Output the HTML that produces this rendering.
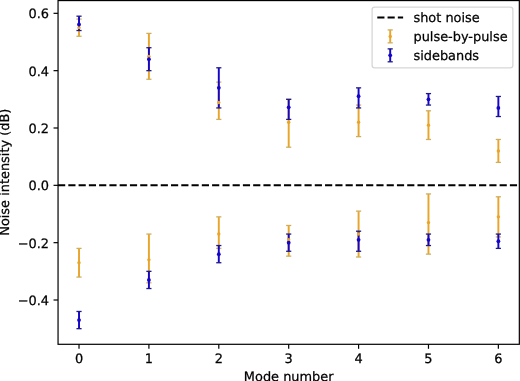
<!DOCTYPE html>
<html><head><meta charset="utf-8"><title>Noise intensity vs mode number</title>
<style>html,body{margin:0;padding:0;background:#fff;}body{width:520px;height:381px;overflow:hidden;}svg{display:block;}text{text-rendering:geometricPrecision;}</style>
</head><body>
<svg width="520" height="381" viewBox="0 0 520 381">
<rect x="0" y="0" width="520" height="381" fill="#ffffff"/>
<g transform="translate(0.15 0)">
<line x1="57.9" y1="185.333" x2="519.18" y2="185.333" stroke="#000" stroke-width="1.938" stroke-dasharray="7.169 3.100"/>
<line x1="78.867" y1="19.059" x2="78.867" y2="36.26" stroke="#e8a52a" stroke-width="1.938"/>
<line x1="76.284" y1="19.059" x2="81.451" y2="19.059" stroke="#cdae5c" stroke-width="1.292"/>
<line x1="76.284" y1="36.26" x2="81.451" y2="36.26" stroke="#cdae5c" stroke-width="1.292"/>
<line x1="148.758" y1="33.393" x2="148.758" y2="79.261" stroke="#e8a52a" stroke-width="1.938"/>
<line x1="146.175" y1="33.393" x2="151.342" y2="33.393" stroke="#cdae5c" stroke-width="1.292"/>
<line x1="146.175" y1="79.261" x2="151.342" y2="79.261" stroke="#cdae5c" stroke-width="1.292"/>
<line x1="218.649" y1="82.128" x2="218.649" y2="119.396" stroke="#e8a52a" stroke-width="1.938"/>
<line x1="216.066" y1="82.128" x2="221.232" y2="82.128" stroke="#cdae5c" stroke-width="1.292"/>
<line x1="216.066" y1="119.396" x2="221.232" y2="119.396" stroke="#cdae5c" stroke-width="1.292"/>
<line x1="288.54" y1="99.329" x2="288.54" y2="147.204" stroke="#e8a52a" stroke-width="1.938"/>
<line x1="285.957" y1="99.329" x2="291.123" y2="99.329" stroke="#cdae5c" stroke-width="1.292"/>
<line x1="285.957" y1="147.204" x2="291.123" y2="147.204" stroke="#cdae5c" stroke-width="1.292"/>
<line x1="358.431" y1="105.062" x2="358.431" y2="136.597" stroke="#e8a52a" stroke-width="1.938"/>
<line x1="355.848" y1="105.062" x2="361.014" y2="105.062" stroke="#cdae5c" stroke-width="1.292"/>
<line x1="355.848" y1="136.597" x2="361.014" y2="136.597" stroke="#cdae5c" stroke-width="1.292"/>
<line x1="428.322" y1="110.796" x2="428.322" y2="139.464" stroke="#e8a52a" stroke-width="1.938"/>
<line x1="425.738" y1="110.796" x2="430.905" y2="110.796" stroke="#cdae5c" stroke-width="1.292"/>
<line x1="425.738" y1="139.464" x2="430.905" y2="139.464" stroke="#cdae5c" stroke-width="1.292"/>
<line x1="498.213" y1="139.464" x2="498.213" y2="162.398" stroke="#e8a52a" stroke-width="1.938"/>
<line x1="495.629" y1="139.464" x2="500.796" y2="139.464" stroke="#cdae5c" stroke-width="1.292"/>
<line x1="495.629" y1="162.398" x2="500.796" y2="162.398" stroke="#cdae5c" stroke-width="1.292"/>
<line x1="78.867" y1="248.402" x2="78.867" y2="277.07" stroke="#e8a52a" stroke-width="1.938"/>
<line x1="76.284" y1="248.402" x2="81.451" y2="248.402" stroke="#cdae5c" stroke-width="1.292"/>
<line x1="76.284" y1="277.07" x2="81.451" y2="277.07" stroke="#cdae5c" stroke-width="1.292"/>
<line x1="148.758" y1="234.068" x2="148.758" y2="282.803" stroke="#e8a52a" stroke-width="1.938"/>
<line x1="146.175" y1="234.068" x2="151.342" y2="234.068" stroke="#cdae5c" stroke-width="1.292"/>
<line x1="146.175" y1="282.803" x2="151.342" y2="282.803" stroke="#cdae5c" stroke-width="1.292"/>
<line x1="218.649" y1="216.867" x2="218.649" y2="248.402" stroke="#e8a52a" stroke-width="1.938"/>
<line x1="216.066" y1="216.867" x2="221.232" y2="216.867" stroke="#cdae5c" stroke-width="1.292"/>
<line x1="216.066" y1="248.402" x2="221.232" y2="248.402" stroke="#cdae5c" stroke-width="1.292"/>
<line x1="288.54" y1="225.468" x2="288.54" y2="256.142" stroke="#e8a52a" stroke-width="1.938"/>
<line x1="285.957" y1="225.468" x2="291.123" y2="225.468" stroke="#cdae5c" stroke-width="1.292"/>
<line x1="285.957" y1="256.142" x2="291.123" y2="256.142" stroke="#cdae5c" stroke-width="1.292"/>
<line x1="358.431" y1="211.134" x2="358.431" y2="257.002" stroke="#e8a52a" stroke-width="1.938"/>
<line x1="355.848" y1="211.134" x2="361.014" y2="211.134" stroke="#cdae5c" stroke-width="1.292"/>
<line x1="355.848" y1="257.002" x2="361.014" y2="257.002" stroke="#cdae5c" stroke-width="1.292"/>
<line x1="428.322" y1="193.933" x2="428.322" y2="254.135" stroke="#e8a52a" stroke-width="1.938"/>
<line x1="425.738" y1="193.933" x2="430.905" y2="193.933" stroke="#cdae5c" stroke-width="1.292"/>
<line x1="425.738" y1="254.135" x2="430.905" y2="254.135" stroke="#cdae5c" stroke-width="1.292"/>
<line x1="498.213" y1="196.8" x2="498.213" y2="236.935" stroke="#e8a52a" stroke-width="1.938"/>
<line x1="495.629" y1="196.8" x2="500.796" y2="196.8" stroke="#cdae5c" stroke-width="1.292"/>
<line x1="495.629" y1="236.935" x2="500.796" y2="236.935" stroke="#cdae5c" stroke-width="1.292"/>
<line x1="78.867" y1="16.192" x2="78.867" y2="30.526" stroke="#1405c8" stroke-width="1.938"/>
<line x1="76.284" y1="16.192" x2="81.451" y2="16.192" stroke="#1c1a86" stroke-width="1.292"/>
<line x1="76.284" y1="30.526" x2="81.451" y2="30.526" stroke="#1c1a86" stroke-width="1.292"/>
<line x1="148.758" y1="47.727" x2="148.758" y2="70.661" stroke="#1405c8" stroke-width="1.938"/>
<line x1="146.175" y1="47.727" x2="151.342" y2="47.727" stroke="#1c1a86" stroke-width="1.292"/>
<line x1="146.175" y1="70.661" x2="151.342" y2="70.661" stroke="#1c1a86" stroke-width="1.292"/>
<line x1="218.649" y1="67.794" x2="218.649" y2="107.929" stroke="#1405c8" stroke-width="1.938"/>
<line x1="216.066" y1="67.794" x2="221.232" y2="67.794" stroke="#1c1a86" stroke-width="1.292"/>
<line x1="216.066" y1="107.929" x2="221.232" y2="107.929" stroke="#1c1a86" stroke-width="1.292"/>
<line x1="288.54" y1="99.329" x2="288.54" y2="119.396" stroke="#1405c8" stroke-width="1.938"/>
<line x1="285.957" y1="99.329" x2="291.123" y2="99.329" stroke="#1c1a86" stroke-width="1.292"/>
<line x1="285.957" y1="119.396" x2="291.123" y2="119.396" stroke="#1c1a86" stroke-width="1.292"/>
<line x1="358.431" y1="87.862" x2="358.431" y2="107.929" stroke="#1405c8" stroke-width="1.938"/>
<line x1="355.848" y1="87.862" x2="361.014" y2="87.862" stroke="#1c1a86" stroke-width="1.292"/>
<line x1="355.848" y1="107.929" x2="361.014" y2="107.929" stroke="#1c1a86" stroke-width="1.292"/>
<line x1="428.322" y1="93.595" x2="428.322" y2="105.062" stroke="#1405c8" stroke-width="1.938"/>
<line x1="425.738" y1="93.595" x2="430.905" y2="93.595" stroke="#1c1a86" stroke-width="1.292"/>
<line x1="425.738" y1="105.062" x2="430.905" y2="105.062" stroke="#1c1a86" stroke-width="1.292"/>
<line x1="498.213" y1="96.462" x2="498.213" y2="116.53" stroke="#1405c8" stroke-width="1.938"/>
<line x1="495.629" y1="96.462" x2="500.796" y2="96.462" stroke="#1c1a86" stroke-width="1.292"/>
<line x1="495.629" y1="116.53" x2="500.796" y2="116.53" stroke="#1c1a86" stroke-width="1.292"/>
<line x1="78.867" y1="311.471" x2="78.867" y2="328.672" stroke="#1405c8" stroke-width="1.938"/>
<line x1="76.284" y1="311.471" x2="81.451" y2="311.471" stroke="#1c1a86" stroke-width="1.292"/>
<line x1="76.284" y1="328.672" x2="81.451" y2="328.672" stroke="#1c1a86" stroke-width="1.292"/>
<line x1="148.758" y1="271.336" x2="148.758" y2="288.537" stroke="#1405c8" stroke-width="1.938"/>
<line x1="146.175" y1="271.336" x2="151.342" y2="271.336" stroke="#1c1a86" stroke-width="1.292"/>
<line x1="146.175" y1="288.537" x2="151.342" y2="288.537" stroke="#1c1a86" stroke-width="1.292"/>
<line x1="218.649" y1="245.535" x2="218.649" y2="262.736" stroke="#1405c8" stroke-width="1.938"/>
<line x1="216.066" y1="245.535" x2="221.232" y2="245.535" stroke="#1c1a86" stroke-width="1.292"/>
<line x1="216.066" y1="262.736" x2="221.232" y2="262.736" stroke="#1c1a86" stroke-width="1.292"/>
<line x1="288.54" y1="234.068" x2="288.54" y2="251.269" stroke="#1405c8" stroke-width="1.938"/>
<line x1="285.957" y1="234.068" x2="291.123" y2="234.068" stroke="#1c1a86" stroke-width="1.292"/>
<line x1="285.957" y1="251.269" x2="291.123" y2="251.269" stroke="#1c1a86" stroke-width="1.292"/>
<line x1="358.431" y1="231.201" x2="358.431" y2="251.269" stroke="#1405c8" stroke-width="1.938"/>
<line x1="355.848" y1="231.201" x2="361.014" y2="231.201" stroke="#1c1a86" stroke-width="1.292"/>
<line x1="355.848" y1="251.269" x2="361.014" y2="251.269" stroke="#1c1a86" stroke-width="1.292"/>
<line x1="428.322" y1="234.068" x2="428.322" y2="245.535" stroke="#1405c8" stroke-width="1.938"/>
<line x1="425.738" y1="234.068" x2="430.905" y2="234.068" stroke="#1c1a86" stroke-width="1.292"/>
<line x1="425.738" y1="245.535" x2="430.905" y2="245.535" stroke="#1c1a86" stroke-width="1.292"/>
<line x1="498.213" y1="234.068" x2="498.213" y2="248.402" stroke="#1405c8" stroke-width="1.938"/>
<line x1="495.629" y1="234.068" x2="500.796" y2="234.068" stroke="#1c1a86" stroke-width="1.292"/>
<line x1="495.629" y1="248.402" x2="500.796" y2="248.402" stroke="#1c1a86" stroke-width="1.292"/>
<circle cx="78.867" cy="27.659" r="1.7" fill="#e8a52a"/>
<circle cx="148.758" cy="56.327" r="1.7" fill="#e8a52a"/>
<circle cx="218.649" cy="102.482" r="1.7" fill="#e8a52a"/>
<circle cx="288.54" cy="122.263" r="1.7" fill="#e8a52a"/>
<circle cx="358.431" cy="122.263" r="1.7" fill="#e8a52a"/>
<circle cx="428.322" cy="125.13" r="1.7" fill="#e8a52a"/>
<circle cx="498.213" cy="150.931" r="1.7" fill="#e8a52a"/>
<circle cx="78.867" cy="262.736" r="1.7" fill="#e8a52a"/>
<circle cx="148.758" cy="259.869" r="1.7" fill="#e8a52a"/>
<circle cx="218.649" cy="234.068" r="1.7" fill="#e8a52a"/>
<circle cx="288.54" cy="239.802" r="1.7" fill="#e8a52a"/>
<circle cx="358.431" cy="234.068" r="1.7" fill="#e8a52a"/>
<circle cx="428.322" cy="222.601" r="1.7" fill="#e8a52a"/>
<circle cx="498.213" cy="216.867" r="1.7" fill="#e8a52a"/>
<circle cx="78.867" cy="24.506" r="1.9" fill="#1405c8"/>
<circle cx="148.758" cy="59.194" r="1.9" fill="#1405c8"/>
<circle cx="218.649" cy="87.862" r="1.9" fill="#1405c8"/>
<circle cx="288.54" cy="107.356" r="1.9" fill="#1405c8"/>
<circle cx="358.431" cy="96.175" r="1.9" fill="#1405c8"/>
<circle cx="428.322" cy="99.329" r="1.9" fill="#1405c8"/>
<circle cx="498.213" cy="107.929" r="1.9" fill="#1405c8"/>
<circle cx="78.867" cy="320.072" r="1.9" fill="#1405c8"/>
<circle cx="148.758" cy="279.937" r="1.9" fill="#1405c8"/>
<circle cx="218.649" cy="254.135" r="1.9" fill="#1405c8"/>
<circle cx="288.54" cy="242.668" r="1.9" fill="#1405c8"/>
<circle cx="358.431" cy="239.802" r="1.9" fill="#1405c8"/>
<circle cx="428.322" cy="239.802" r="1.9" fill="#1405c8"/>
<circle cx="498.213" cy="241.235" r="1.9" fill="#1405c8"/>
<rect x="57.9" y="0.568" width="461.28" height="343.728" fill="none" stroke="#000" stroke-width="1.2"/>
<line x1="53.379" y1="300.004" x2="57.9" y2="300.004" stroke="#000" stroke-width="1.2"/>
<line x1="53.379" y1="242.668" x2="57.9" y2="242.668" stroke="#000" stroke-width="1.2"/>
<line x1="53.379" y1="185.333" x2="57.9" y2="185.333" stroke="#000" stroke-width="1.2"/>
<line x1="53.379" y1="127.997" x2="57.9" y2="127.997" stroke="#000" stroke-width="1.2"/>
<line x1="53.379" y1="70.661" x2="57.9" y2="70.661" stroke="#000" stroke-width="1.2"/>
<line x1="53.379" y1="13.325" x2="57.9" y2="13.325" stroke="#000" stroke-width="1.2"/>
<line x1="78.867" y1="344.296" x2="78.867" y2="348.817" stroke="#000" stroke-width="1.2"/>
<line x1="148.758" y1="344.296" x2="148.758" y2="348.817" stroke="#000" stroke-width="1.2"/>
<line x1="218.649" y1="344.296" x2="218.649" y2="348.817" stroke="#000" stroke-width="1.2"/>
<line x1="288.54" y1="344.296" x2="288.54" y2="348.817" stroke="#000" stroke-width="1.2"/>
<line x1="358.431" y1="344.296" x2="358.431" y2="348.817" stroke="#000" stroke-width="1.2"/>
<line x1="428.322" y1="344.296" x2="428.322" y2="348.817" stroke="#000" stroke-width="1.2"/>
<line x1="498.213" y1="344.296" x2="498.213" y2="348.817" stroke="#000" stroke-width="1.2"/>
<g font-family="'DejaVu Sans', 'Liberation Sans', sans-serif" font-size="12.917" fill="#000" stroke="#000" stroke-width="0.25"><text x="48.858" y="304.879" text-anchor="end">−0.4</text><text x="48.858" y="247.543" text-anchor="end">−0.2</text><text x="48.858" y="190.208" text-anchor="end">0.0</text><text x="48.858" y="132.872" text-anchor="end">0.2</text><text x="48.858" y="75.536" text-anchor="end">0.4</text><text x="48.858" y="18.2" text-anchor="end">0.6</text><text x="78.868" y="363.088" text-anchor="middle">0</text><text x="148.758" y="363.088" text-anchor="middle">1</text><text x="218.649" y="363.088" text-anchor="middle">2</text><text x="288.54" y="363.088" text-anchor="middle">3</text><text x="358.431" y="363.088" text-anchor="middle">4</text><text x="428.322" y="363.088" text-anchor="middle">5</text><text x="498.212" y="363.088" text-anchor="middle">6</text><text x="288.54" y="380.754" text-anchor="middle">Mode number</text><text transform="translate(9.348 172.233) rotate(-90)" text-anchor="middle">Noise intensity (dB)</text></g>
<rect x="371.972" y="7.026" width="140.75" height="60.75" rx="2.583" fill="#ffffff" fill-opacity="0.8" stroke="#cccccc" stroke-opacity="0.8" stroke-width="1.292"/>
<line x1="377.138" y1="17.422" x2="402.972" y2="17.422" stroke="#000" stroke-width="1.938" stroke-dasharray="7.169 3.100"/>
<line x1="390.055" y1="29.922" x2="390.055" y2="42.839" stroke="#e8a52a" stroke-width="1.938"/>
<line x1="387.472" y1="29.922" x2="392.638" y2="29.922" stroke="#cdae5c" stroke-width="1.292"/>
<line x1="387.472" y1="42.839" x2="392.638" y2="42.839" stroke="#cdae5c" stroke-width="1.292"/>
<circle cx="390.055" cy="36.381" r="1.7" fill="#e8a52a"/>
<line x1="390.055" y1="48.881" x2="390.055" y2="61.797" stroke="#1405c8" stroke-width="1.938"/>
<line x1="387.472" y1="48.881" x2="392.638" y2="48.881" stroke="#1c1a86" stroke-width="1.292"/>
<line x1="387.472" y1="61.797" x2="392.638" y2="61.797" stroke="#1c1a86" stroke-width="1.292"/>
<circle cx="390.055" cy="55.339" r="1.9" fill="#1405c8"/>
<g font-family="'DejaVu Sans', 'Liberation Sans', sans-serif" font-size="12.917" fill="#000" stroke="#000" stroke-width="0.25"><text x="413.305" y="21.943">shot noise</text><text x="413.305" y="40.901">pulse-by-pulse</text><text x="413.305" y="59.86">sidebands</text></g>
</g>
</svg>
</body></html>
